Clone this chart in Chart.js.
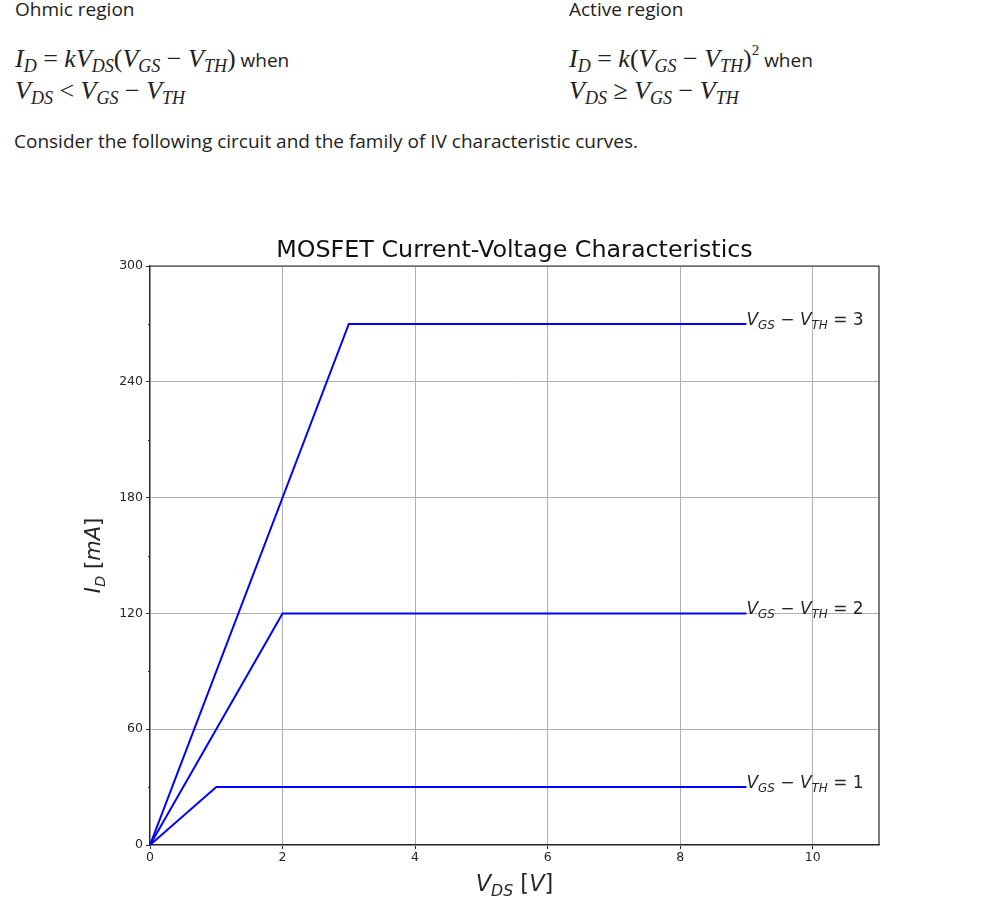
<!DOCTYPE html>
<html><head><meta charset="utf-8">
<script src="https://cdn.jsdelivr.net/npm/chart.js@4.4.1/dist/chart.umd.min.js"></script>
<style>
body{margin:0;background:#fff;width:1008px;height:920px;overflow:hidden;position:relative;font-family:"Open Sans","Noto Sans",sans-serif;color:#222;}
.t{position:absolute;font-size:19px;white-space:nowrap;line-height:1;}
.m{font-family:"Liberation Serif",serif;font-size:26px;}
.m i{font-style:italic;}
.m sub{font-size:18px;vertical-align:-5px;line-height:0;font-style:italic;}
.m sup{font-size:15px;vertical-align:12px;line-height:0;margin-left:0px;}
.w{font-family:"Open Sans","Noto Sans",sans-serif;font-size:19px;}
canvas{position:absolute;left:0;top:200px;}
</style></head>
<body>
<div class="t" style="left:15px;top:0px;">Ohmic region</div>
<div class="t" style="left:569px;top:0px;">Active region</div>
<div class="t" style="left:15px;top:46px;"><span class="m"><i>I</i><sub>D</sub> = <i>kV</i><sub>DS</sub>(<i>V</i><sub>GS</sub> − <i>V</i><sub>TH</sub>)</span> <span class="w">when</span></div>
<div class="t" style="left:15px;top:78px;"><span class="m"><i>V</i><sub>DS</sub> &lt; <i>V</i><sub>GS</sub> − <i>V</i><sub>TH</sub></span></div>
<div class="t" style="left:569px;top:46px;"><span class="m"><i>I</i><sub>D</sub> = <i>k</i>(<i>V</i><sub>GS</sub> − <i>V</i><sub>TH</sub>)<sup>2</sup></span> <span class="w">when</span></div>
<div class="t" style="left:569px;top:78px;"><span class="m"><i>V</i><sub>DS</sub> ≥ <i>V</i><sub>GS</sub> − <i>V</i><sub>TH</sub></span></div>
<div class="t" style="left:14px;top:132px;">Consider the following circuit and the family of IV characteristic curves.</div>
<canvas id="c" width="1008" height="720"></canvas>
<script>
// data
const vdsCurve1 = [0, 1, 9];
const idCurve1  = [0, 30, 30];
const vdsCurve2 = [0, 2, 9];
const idCurve2  = [0, 120, 120];
const vdsCurve3 = [0, 3, 9];
const idCurve3  = [0, 270, 270];
const curveLabels = ['1', '2', '3'];
const xTicks = [0, 2, 4, 6, 8, 10];
const yTicks = [0, 60, 120, 180, 240, 300];
const yMinorTicks = [30, 90, 150, 210, 270];
const chartTitle = 'MOSFET Current-Voltage Characteristics';

const curves = [[vdsCurve1, idCurve1], [vdsCurve2, idCurve2], [vdsCurve3, idCurve3]];
const datasets = curves.map(([xs, ys]) => ({
  data: xs.map((x, i) => ({x, y: ys[i]})),
  showLine: true, borderColor: '#0000ff', borderWidth: 2, pointRadius: 0, fill: false, tension: 0
}));

const TXT = '#262626';
function drawMath(ctx, segs, x, y, size, align) {
  const parts = segs.map(s => {
    const fs = s.sub ? size * 0.7 : size;
    const font = (s.it ? 'italic ' : '') + fs + 'px "DejaVu Sans"';
    ctx.font = font;
    return {t: s.t, font, w: ctx.measureText(s.t).width, dy: s.sub ? size * 0.22 : 0};
  });
  const total = parts.reduce((a, p) => a + p.w, 0);
  let cx = align === 'center' ? x - total / 2 : x;
  parts.forEach(p => { ctx.font = p.font; ctx.fillText(p.t, cx, y + p.dy); cx += p.w; });
}

const deco = {
  id: 'deco',
  afterDraw(chart) {
    const {ctx, chartArea: a, scales: {x, y}} = chart;
    ctx.save();
    ctx.strokeStyle = TXT; ctx.lineWidth = 1.2;
    ctx.beginPath();
    ctx.moveTo(a.left, a.top); ctx.lineTo(a.right, a.top); ctx.lineTo(a.right, a.bottom);
    ctx.stroke();
    ctx.lineWidth = 1;
    yMinorTicks.forEach(v => {
      const py = Math.round(y.getPixelForValue(v)) + 0.5;
      ctx.beginPath(); ctx.moveTo(a.left - 2, py); ctx.lineTo(a.left, py); ctx.stroke();
    });
    ctx.fillStyle = '#111';
    ctx.textBaseline = 'alphabetic';
    ctx.textAlign = 'center';
    ctx.font = '23.8px "DejaVu Sans"';
    ctx.fillText(chartTitle, (a.left + a.right) / 2, a.top - 9);
    ctx.textAlign = 'left';
    ctx.fillStyle = TXT;
    drawMath(ctx, [{t: 'V', it: true}, {t: 'DS', it: true, sub: true}, {t: ' [', it: false}, {t: 'V', it: true}, {t: ']', it: false}],
      (a.left + a.right) / 2, a.bottom + 46, 22.5, 'center');
    ctx.save();
    ctx.translate(a.left - 50, (a.top + a.bottom) / 2);
    ctx.rotate(-Math.PI / 2);
    drawMath(ctx, [{t: 'I', it: true}, {t: 'D', it: true, sub: true}, {t: ' [', it: false}, {t: 'mA', it: true}, {t: ']', it: false}],
      0, 0, 21, 'center');
    ctx.restore();
    curves.forEach(([xs, ys], i) => {
      const px = x.getPixelForValue(xs[xs.length - 1]);
      const py = y.getPixelForValue(ys[ys.length - 1]);
      drawMath(ctx, [{t: 'V', it: true}, {t: 'GS', it: true, sub: true}, {t: ' − ', it: false}, {t: 'V', it: true}, {t: 'TH', it: true, sub: true}, {t: ' = ' + curveLabels[i], it: false}],
        px, py + 1, 17, 'left');
    });
    ctx.restore();
  }
};

new Chart(document.getElementById('c'), {
  type: 'scatter',
  data: {datasets},
  options: {
    responsive: false, animation: false, devicePixelRatio: 1,
    layout: {padding: {top: 66, right: 129, left: 0, bottom: 0}},
    plugins: {legend: {display: false}, tooltip: {enabled: false}, title: {display: false}},
    scales: {
      x: {
        type: 'linear', min: 0, max: 11,
        afterBuildTicks: s => { s.ticks = xTicks.map(v => ({value: v})); },
        afterFit: s => { s.height = 75; },
        ticks: {font: {family: 'DejaVu Sans', size: 12.5}, color: TXT, padding: 1, maxRotation: 0},
        grid: {color: '#b0b0b0', lineWidth: 1, tickColor: TXT, tickLength: 4, drawTicks: true},
        border: {color: TXT, width: 1.2}
      },
      y: {
        type: 'linear', min: 0, max: 300,
        afterBuildTicks: s => { s.ticks = yTicks.map(v => ({value: v})); },
        afterFit: s => { s.width = 150; },
        ticks: {font: {family: 'DejaVu Sans', size: 12.5}, color: TXT, padding: 3},
        grid: {color: '#b0b0b0', lineWidth: 1, tickColor: TXT, tickLength: 4, drawTicks: true},
        border: {color: TXT, width: 1.2}
      }
    }
  },
  plugins: [deco]
});
</script>
</body></html>
